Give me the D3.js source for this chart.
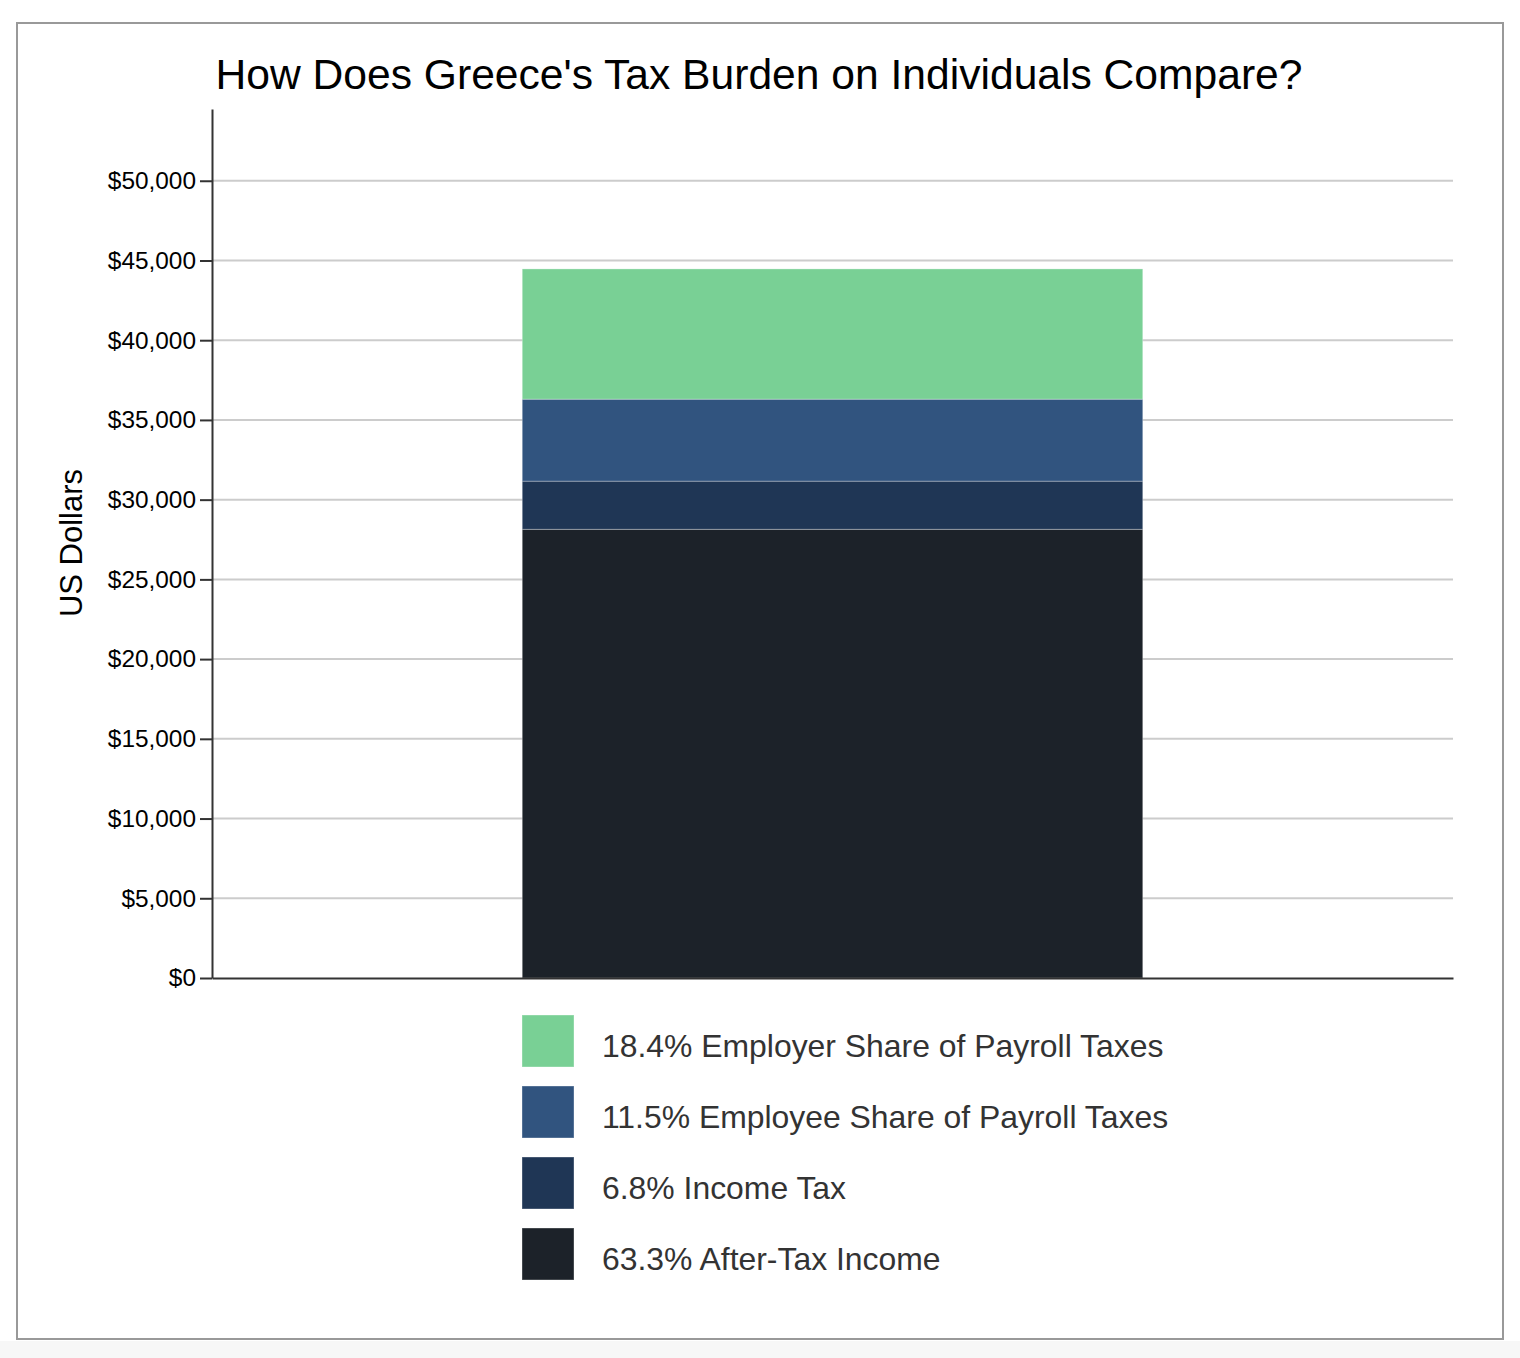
<!DOCTYPE html>
<html>
<head>
<meta charset="utf-8">
<script src="https://cdn.jsdelivr.net/npm/d3@7"></script>
<style>
  html, body { margin: 0; padding: 0; background: #ffffff; }
  svg { display: block; }
  text { font-family: "Liberation Sans", Arial, Helvetica, sans-serif; }
</style>
</head>
<body>
<svg id="chart" width="1520" height="1358"></svg>
<script>
// ---- data ----
const categories = ["Greece"];
const seriesKeys = ["afterTax", "incomeTax", "employeeShare", "employerShare"];
const seriesLabels = ["63.3% After-Tax Income", "6.8% Income Tax", "11.5% Employee Share of Payroll Taxes", "18.4% Employer Share of Payroll Taxes"];
const seriesColors = ["#1c2229", "#1f3655", "#31547f", "#79d095"];
const afterTax = [28140];
const incomeTax = [3020];
const employeeShare = [5140];
const employerShare = [8170];
const yTicks = [0, 5000, 10000, 15000, 20000, 25000, 30000, 35000, 40000, 45000, 50000];
const yMax = 54500;
const titleText = "How Does Greece's Tax Burden on Individuals Compare?";
const yLabel = "US Dollars";

(function () {
const rows = categories.map((c, i) => ({
  category: c,
  afterTax: afterTax[i],
  incomeTax: incomeTax[i],
  employeeShare: employeeShare[i],
  employerShare: employerShare[i]
}));

const svg = d3.select("#chart");

// page strip and frame
svg.append("rect").attr("x", 0).attr("y", 1341).attr("width", 1520).attr("height", 17).attr("fill", "#f7f7f7");
svg.append("rect").attr("x", 17).attr("y", 23).attr("width", 1486).attr("height", 1316)
  .attr("fill", "#ffffff").attr("stroke", "#999999").attr("stroke-width", 2);

const pLeft = 212, pRight = 1453, pTop = 109, pBottom = 978;

const x = d3.scaleBand().domain(categories).range([pLeft, pRight]).padding(1 / 3);
const y = d3.scaleLinear().domain([0, yMax]).range([pBottom, pTop]);

// title
svg.append("text").attr("x", 759).attr("y", 89).attr("text-anchor", "middle")
  .attr("font-size", 42.6).attr("fill", "#000").text(titleText);

// gridlines
svg.append("g").selectAll("line").data(yTicks.filter(d => d > 0)).join("line")
  .attr("x1", pLeft).attr("x2", pRight)
  .attr("y1", d => y(d)).attr("y2", d => y(d))
  .attr("stroke", "#cccccc").attr("stroke-width", 2);

// stacked bars
const stack = d3.stack().keys(seriesKeys);
const stacked = stack(rows);
svg.append("g").selectAll("g").data(stacked).join("g")
  .attr("fill", (d, i) => seriesColors[i])
  .selectAll("rect").data(d => d).join("rect")
  .attr("x", d => x(d.data.category))
  .attr("width", x.bandwidth())
  .attr("y", d => y(d[1]))
  .attr("height", d => y(d[0]) - y(d[1]))
  .attr("stroke", "rgba(255,255,255,0.3)")
  .attr("stroke-width", 1);

// y axis
const yAxis = d3.axisLeft(y).tickValues(yTicks).tickSize(12).tickSizeOuter(0).tickPadding(4)
  .tickFormat(d => "$" + d3.format(",")(d));
const gy = svg.append("g").attr("transform", `translate(${pLeft},0)`).call(yAxis);
gy.select(".domain").attr("stroke", "#333").attr("stroke-width", 2);
gy.selectAll(".tick line").attr("stroke", "#333").attr("stroke-width", 2);
gy.selectAll(".tick text").attr("font-size", 24.4).attr("fill", "#000")
  .attr("font-family", '"Liberation Sans", Arial, Helvetica, sans-serif');

// x axis baseline
const xAxis = d3.axisBottom(x).tickSize(0).tickSizeOuter(0).tickFormat("");
const gx = svg.append("g").attr("transform", `translate(0,${pBottom})`).call(xAxis);
gx.select(".domain").attr("stroke", "#333").attr("stroke-width", 2);

// y label
svg.append("text").attr("transform", "translate(82,543) rotate(-90)")
  .attr("text-anchor", "middle").attr("font-size", 31).attr("fill", "#000").text(yLabel);

// legend (top item = top of stack)
const legendOrder = seriesKeys.map((k, i) => i).reverse();
const lg = svg.append("g").selectAll("g").data(legendOrder).join("g")
  .attr("transform", (d, j) => `translate(522,${1015 + j * 71})`);
lg.append("rect").attr("width", 52).attr("height", 52)
  .attr("fill", d => seriesColors[d])
  .attr("stroke", "rgba(255,255,255,0.35)").attr("stroke-width", 1);
lg.append("text").attr("x", 80).attr("y", 42).attr("font-size", 31.9).attr("fill", "#333")
  .text(d => seriesLabels[d]);
})();
</script>
</body>
</html>
